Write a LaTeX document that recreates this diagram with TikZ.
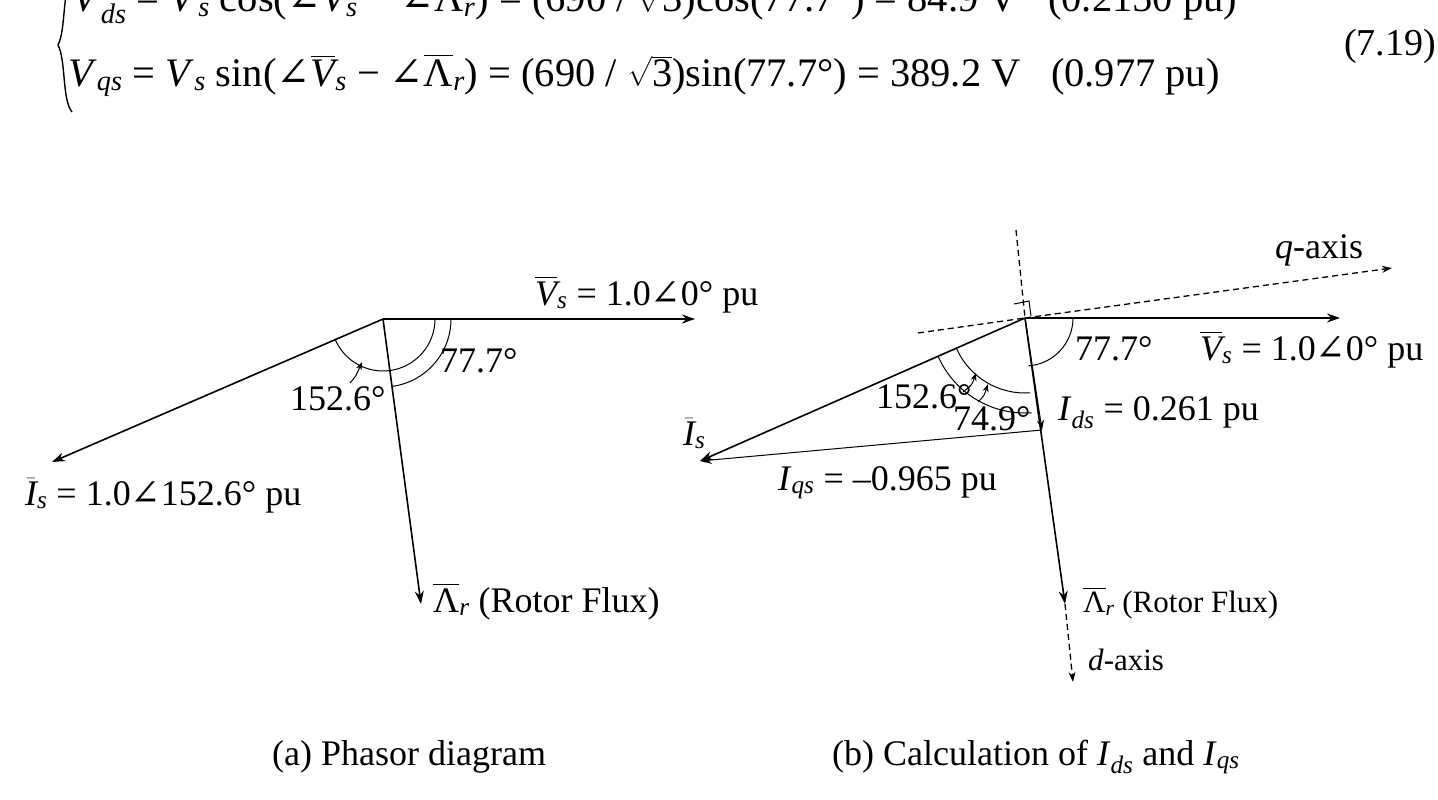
\documentclass[tikz,border=0pt]{standalone}
\usepackage{amsmath}
\usepackage{fontspec}
\setmainfont{Liberation Serif}
\newfontfamily\symf{DejaVu Serif}
\usetikzlibrary{arrows.meta}
\newcommand{\an}{{\symf\char"2220}}
\newcommand{\ol}[2]{$\overline{\text{#1}}_{\text{\itshape #2}}$}
\newcommand{\is}[2]{\textit{#1}$_{\text{\itshape #2}}$}
\begin{document}
\begin{tikzpicture}[x=1pt,y=-1pt,
  vec/.style={line width=1.6pt,-{Stealth[length=13pt,width=9pt]}},
  thin/.style={line width=1pt},
  dsh/.style={line width=1.3pt,dashed,dash pattern=on 6pt off 4pt},
  lbl/.style={inner sep=0pt,font=\fontsize{36}{40}\selectfont},
  sml/.style={inner sep=0pt,font=\fontsize{31}{36}\selectfont}]
\useasboundingbox (0,0) rectangle (1438,800);
\clip (0,0) rectangle (1438,800);
% equations
\node[lbl,anchor=base west,font=\fontsize{40.5}{44}\selectfont] (eq1) at (72,12) {\is{V}{ds} = \is{V}{s} cos(\an\ol{\itshape V}{s} − \an\ol{Λ}{r}) = (690 / $\sqrt{\text{3}}$)cos(77.7°) = 84.9 V \ \ (0.2150 pu)};
\node[lbl,anchor=base west,font=\fontsize{40.5}{44}\selectfont] (eq2) at (68,86) {\is{V}{qs} = \is{V}{s} sin(\an\ol{\itshape V}{s} − \an\ol{Λ}{r}) = (690 / $\sqrt{\text{3}}$)sin(77.7°) = 389.2 V \ \ (0.977 pu)};
\node[lbl,anchor=base east,font=\fontsize{38}{40}\selectfont] (eqn) at (1436,56) {(7.19)};
\draw[line width=1.4pt] (72,-20) .. controls (62,-10) and (66,30) .. (58,45) .. controls (66,60) and (62,100) .. (72,112);
% (a)
\coordinate (O1) at (383,319);
\coordinate (V1) at (695,319);
\coordinate (I1) at (52,462);
\coordinate (L1) at (421,604);
\draw[vec] (O1) -- (V1);
\draw[vec] (O1) -- (I1);
\draw[vec] (O1) -- (L1);
\draw[thin] ([shift={(156.6:52)}]O1) arc[start angle=156.6,end angle=82.4,radius=52];
\draw[thin] ([shift={(0:68)}]O1) arc[start angle=0,end angle=82.4,radius=68];
\draw[thin] ([shift={(0:52)}]O1) arc[start angle=0,end angle=82.4,radius=52];
\draw[thin,-{Stealth[length=8pt,width=6pt]}] (350,383) .. controls (356,376) .. (362,362);
\node[lbl,anchor=base west] (Vs1) at (535,305) {\ol{\itshape V}{s} = 1.0\an0° pu};
\node[lbl,anchor=base west] (a77) at (440,372) {77.7°};
\node[lbl,anchor=base west] (a152) at (290,410) {152.6°};
\node[lbl,anchor=base west] (Is1) at (25,505) {$\bar{\text{\itshape I}}_{\text{\itshape s}}$ = 1.0\an152.6° pu};
\node[lbl,anchor=base west] (Lr1) at (433,612) {\ol{Λ}{r} (Rotor Flux)};
\node[lbl,anchor=base west] (capa) at (272,765) {(a) Phasor diagram};
% (b)
\coordinate (O2) at (1025,318);
\coordinate (V2) at (1340,318);
\coordinate (I2) at (700,461);
\coordinate (L2) at (1065,604);
\coordinate (D2) at (1073,682);
\coordinate (U2) at (1016,230);
\coordinate (Q2) at (1392,268);
\coordinate (B2) at (918,333);
\coordinate (P2) at (1042,430);
\draw[dsh] (U2) -- (O2);
\draw[dsh,-{Stealth[length=10pt,width=7pt]}] (O2) -- (Q2);
\draw[dsh] (B2) -- (O2);
\draw[dsh,-{Stealth[length=10pt,width=7pt]}] (L2) -- (D2);
\draw[vec] (O2) -- (V2);
\draw[vec] (O2) -- (I2);
\draw[vec] (O2) -- (L2);
\draw[thin,-{Stealth[length=10pt,width=7pt]}] (O2) -- (P2);
\draw[thin,-{Stealth[length=12pt,width=8pt]}] (P2) -- (I2);
\draw[thin] (1014,304) -- (1029,301) -- (1031,316);
\draw[thin] ([shift={(156.3:75)}]O2) arc[start angle=156.3,end angle=86,radius=75];
\draw[thin] ([shift={(156.3:95)}]O2) arc[start angle=156.3,end angle=86,radius=95];
\draw[thin] ([shift={(0:48)}]O2) arc[start angle=0,end angle=86,radius=48];
\draw[thin,-{Stealth[length=8pt,width=6pt]}] (963,392) .. controls (972,385) .. (976,373);
\draw[thin,-{Stealth[length=8pt,width=6pt]}] (978,402) .. controls (984,396) .. (988,384);
\node[lbl,anchor=base west] (q) at (1275,258) {\textit{q}-axis};
\node[lbl,anchor=base west] (b77) at (1075,360) {77.7°};
\node[lbl,anchor=base west] (Vs2) at (1200,360) {\ol{\itshape V}{s} = 1.0\an0° pu};
\node[lbl,anchor=base west] (b152) at (876,408) {152.6°};
\node[lbl,anchor=base west] (b74) at (953,430) {74.9°};
\node[lbl,anchor=base west] (Ids) at (1058,420) {\is{I}{ds} = 0.261 pu};
\node[lbl,anchor=base west] (Is2) at (683,445) {$\bar{\text{\itshape I}}_{\text{\itshape s}}$};
\node[lbl,anchor=base west] (Iqs) at (778,490) {\is{I}{qs} = –0.965 pu};
\node[sml,anchor=base west] (Lr2) at (1083,612) {\ol{Λ}{r} (Rotor Flux)};
\node[sml,anchor=base west] (d) at (1088,670) {\textit{d}-axis};
\node[lbl,anchor=base west] (capb) at (832,765) {(b) Calculation of \is{I}{ds} and \is{I}{qs}};
\end{tikzpicture}
\end{document}
